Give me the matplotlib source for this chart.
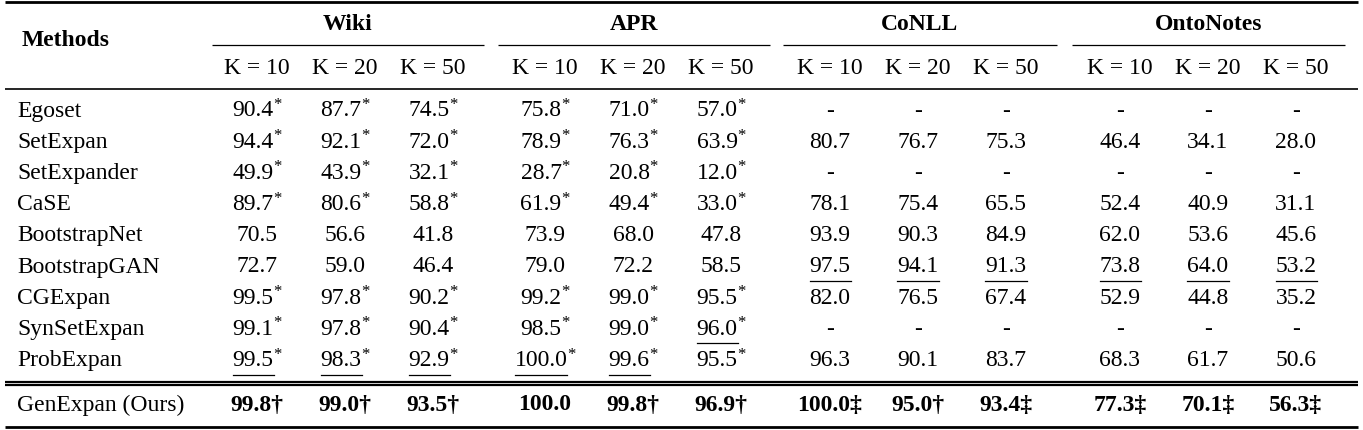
import matplotlib
matplotlib.use("Agg")
import matplotlib.pyplot as plt

datasets = ["Wiki", "APR", "CoNLL", "OntoNotes"]
ks = ["K = 10", "K = 20", "K = 50"]
methods = ["Egoset", "SetExpan", "SetExpander", "CaSE", "BootstrapNet", "BootstrapGAN",
           "CGExpan", "SynSetExpan", "ProbExpan"]
values = [
    ["90.4*", "87.7*", "74.5*", "75.8*", "71.0*", "57.0*", "-", "-", "-", "-", "-", "-"],
    ["94.4*", "92.1*", "72.0*", "78.9*", "76.3*", "63.9*", "80.7", "76.7", "75.3", "46.4", "34.1", "28.0"],
    ["49.9*", "43.9*", "32.1*", "28.7*", "20.8*", "12.0*", "-", "-", "-", "-", "-", "-"],
    ["89.7*", "80.6*", "58.8*", "61.9*", "49.4*", "33.0*", "78.1", "75.4", "65.5", "52.4", "40.9", "31.1"],
    ["70.5", "56.6", "41.8", "73.9", "68.0", "47.8", "93.9", "90.3", "84.9", "62.0", "53.6", "45.6"],
    ["72.7", "59.0", "46.4", "79.0", "72.2", "58.5", "97.5", "94.1", "91.3", "73.8", "64.0", "53.2"],
    ["99.5*", "97.8*", "90.2*", "99.2*", "99.0*", "95.5*", "82.0", "76.5", "67.4", "52.9", "44.8", "35.2"],
    ["99.1*", "97.8*", "90.4*", "98.5*", "99.0*", "96.0*", "-", "-", "-", "-", "-", "-"],
    ["99.5*", "98.3*", "92.9*", "100.0*", "99.6*", "95.5*", "96.3", "90.1", "83.7", "68.3", "61.7", "50.6"],
]
ours_name = "GenExpan (Ours)"
ours = ["99.8†", "99.0†", "93.5†", "100.0", "99.8†", "96.9†", "100.0‡", "95.0†", "93.4‡", "77.3‡", "70.1‡", "56.3‡"]
# (row, col) of underlined (second-best) entries
underlined = [(8, 0), (8, 1), (8, 2), (8, 3), (8, 4), (7, 5), (5, 6), (5, 7), (5, 8), (5, 9), (5, 10), (5, 11)]

W, H = 1363, 430
fig = plt.figure(figsize=(W / 100, H / 100), dpi=100)
ax = fig.add_axes([0, 0, 1, 1])
ax.set_xlim(0, W); ax.set_ylim(H, 0); ax.axis("off")
FONT = "Liberation Serif"
FS = 17

col_x = [257, 345, 433, 545, 633, 721, 830, 918, 1006, 1120, 1208, 1296]
group_rng = [(212, 484), (498, 770), (783, 1057), (1072, 1345)]
row_y = [111 + i * 31.2 for i in range(len(methods))]

def hl(y, x0=5, x1=1358, lw=1.6):
    ax.plot([x0, x1], [y, y], color="black", lw=lw, solid_capstyle="butt")

hl(1.5, lw=2.0); hl(89, lw=1.2); hl(382); hl(385); hl(427, lw=2.0)
for (a, b) in group_rng:
    hl(45, a, b, lw=0.9)

ax.text(22, 40, "Methods", fontfamily=FONT, fontsize=FS, fontweight="bold", va="center", ha="left")
for (a, b), d in zip(group_rng, datasets):
    ax.text((a + b) / 2, 24, d, fontfamily=FONT, fontsize=FS, fontweight="bold", va="center", ha="center")
for i, x in enumerate(col_x):
    ax.text(x, 68, ks[i % 3], fontfamily=FONT, fontsize=FS, va="center", ha="center")

fig.canvas.draw()
rend = fig.canvas.get_renderer()
inv = ax.transData.inverted()

def data_bbox(t):
    bb = t.get_window_extent(rend)
    (x0, y0), (x1, y1) = inv.transform([[bb.x0, bb.y0], [bb.x1, bb.y1]])
    return x0, x1

for r, (m, y) in enumerate(zip(methods, row_y)):
    ax.text(17, y, m, fontfamily=FONT, fontsize=FS, va="center", ha="left")
    for c, x in enumerate(col_x):
        v = values[r][c]
        star = v.endswith("*")
        num = v.rstrip("*")
        t = ax.text(x - (4 if star else 0), y, num, fontfamily=FONT, fontsize=FS, va="center", ha="center")
        x0, x1 = data_bbox(t)
        if star:
            ax.text(x1, y - 6, "*", fontfamily=FONT, fontsize=12, va="center", ha="left")
        if (r, c) in underlined:
            ax.plot([x0, x1], [y + 14, y + 14], color="black", lw=0.9)

ax.text(17, 405, ours_name, fontfamily=FONT, fontsize=FS, va="center", ha="left")
for c, x in enumerate(col_x):
    ax.text(x, 405, ours[c], fontfamily=FONT, fontsize=FS, fontweight="bold", va="center", ha="center")

fig.savefig("out.png", dpi=100)
